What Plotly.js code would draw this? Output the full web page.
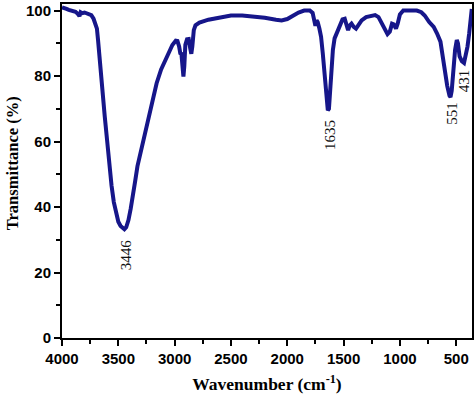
<!DOCTYPE html>
<html>
<head>
<meta charset="utf-8">
<script src="https://cdn.plot.ly/plotly-3.0.1.min.js"></script>
<style>html,body{margin:0;padding:0;background:#fff}#chart{width:474px;height:397px}</style>
</head>
<body>
<div id="chart"></div>
<script>
const wavenumber = [4000,3980,3960,3940,3920,3900,3880,3860,3845,3835,3820,3800,3780,3760,3740,3720,3700,3690,3680,3670,3660,3640,3620,3600,3580,3560,3540,3520,3500,3480,3460,3446,3430,3410,3390,3370,3350,3330,3300,3280,3250,3220,3190,3160,3120,3080,3050,3020,2990,2975,2960,2950,2940,2930,2922,2914,2905,2890,2875,2862,2852,2843,2830,2815,2780,2700,2600,2500,2400,2300,2200,2100,2050,2000,1950,1900,1850,1800,1775,1760,1750,1740,1730,1715,1700,1685,1670,1655,1640,1630,1620,1610,1595,1580,1560,1530,1510,1490,1475,1460,1445,1430,1410,1390,1370,1340,1300,1260,1220,1190,1160,1130,1110,1090,1070,1055,1035,1020,1000,970,900,850,810,780,740,700,670,640,620,600,580,560,551,540,525,510,495,485,470,450,431,415,400,385,370,362];
const transmittance = [101,100.6,100.5,100.2,100.0,99.8,99.6,99.0,98.3,99.5,99.2,99.4,99.1,99.0,98.6,97.5,95.8,94.5,91,86.5,82.5,74.5,67.5,60.5,52,46.5,41.5,38,35.5,34.2,33.4,33.2,33.8,36,39.5,43,48,52.5,57,60,65,69.5,74,77.8,82,85,87,89.5,90.8,90.7,89,87,86.8,82,79.8,83,89.5,91.2,91.3,88.5,86.8,89,94,95.5,96.3,97.2,98,98.5,98.5,98.3,97.8,97.2,97.0,97.4,98.4,99.4,100,100,99.3,96,95.3,97,96.5,94.5,92,87,80,73,69.5,70,75,82,88,91.5,93,95.5,97.3,97.5,95.5,94,95.5,96,95,94.5,95.5,97,98,98.4,98.6,98.0,96,93.5,92.8,93.5,96,95.8,94.5,96,98.8,100,100.1,100,99.5,98.5,96.5,95,93,90.5,86,81,77,74,73.6,75.5,82,88,91,90,86,84.5,84,86.5,89,93,98,100.5];
const peakLabels = ["3446","1635","551","431"];
const peakLabelX = [3430,1620,537,428];
const peakLabelY = [25.3,62,68.5,78.5];

const serif = "'Times New Roman', 'Liberation Serif', serif";
const sans = "Arial, 'Liberation Sans', sans-serif";

const trace = {
  x: wavenumber, y: transmittance, type: 'scatter', mode: 'lines',
  line: {color: '#16168a', width: 4}, hoverinfo: 'skip'
};

const annotations = peakLabels.map((t, i) => ({
  x: peakLabelX[i], y: peakLabelY[i], xref: 'x', yref: 'y', text: t,
  showarrow: false, textangle: -90,
  font: {family: serif, size: 15, color: '#111'}
}));
annotations.push({
  x: -0.122, y: 0.523, xref: 'paper', yref: 'paper', xanchor: 'center', yanchor: 'middle',
  text: 'Transmittance (%)', showarrow: false, textangle: -90,
  font: {family: serif, size: 16.5, color: '#000', weight: 'bold'}
});

const layout = {
  width: 474, height: 397,
  margin: {l: 62, r: 2, t: 4, b: 59},
  paper_bgcolor: '#fff', plot_bgcolor: '#fff',
  showlegend: false,
  xaxis: {
    range: [4000, 360], autorange: false,
    tickvals: [4000,3500,3000,2500,2000,1500,1000,500],
    ticks: 'outside', ticklen: 6, tickwidth: 2, tickcolor: '#000',
    minor: {tickvals: [3750,3250,2750,2250,1750,1250,750], ticks: 'outside', ticklen: 4, tickwidth: 2, tickcolor: '#000'},
    showline: true, linecolor: '#000', linewidth: 2, mirror: true,
    showgrid: false, zeroline: false,
    tickfont: {family: sans, size: 15, color: '#000', weight: 'bold'},
    title: {text: 'Wavenumber (cm<sup>-1</sup>)', font: {family: serif, size: 17.5, color: '#000', weight: 'bold'}, standoff: 12}
  },
  yaxis: {
    range: [0, 102], autorange: false,
    tickvals: [0,20,40,60,80,100],
    ticks: 'outside', ticklen: 6, tickwidth: 2, tickcolor: '#000',
    minor: {tickvals: [10,30,50,70,90], ticks: 'outside', ticklen: 4, tickwidth: 2, tickcolor: '#000'},
    showline: true, linecolor: '#000', linewidth: 2, mirror: true,
    showgrid: false, zeroline: false,
    tickfont: {family: sans, size: 15, color: '#000', weight: 'bold'}
  },
  annotations: annotations
};

Plotly.newPlot('chart', [trace], layout, {staticPlot: true, displayModeBar: false});
</script>
</body>
</html>
